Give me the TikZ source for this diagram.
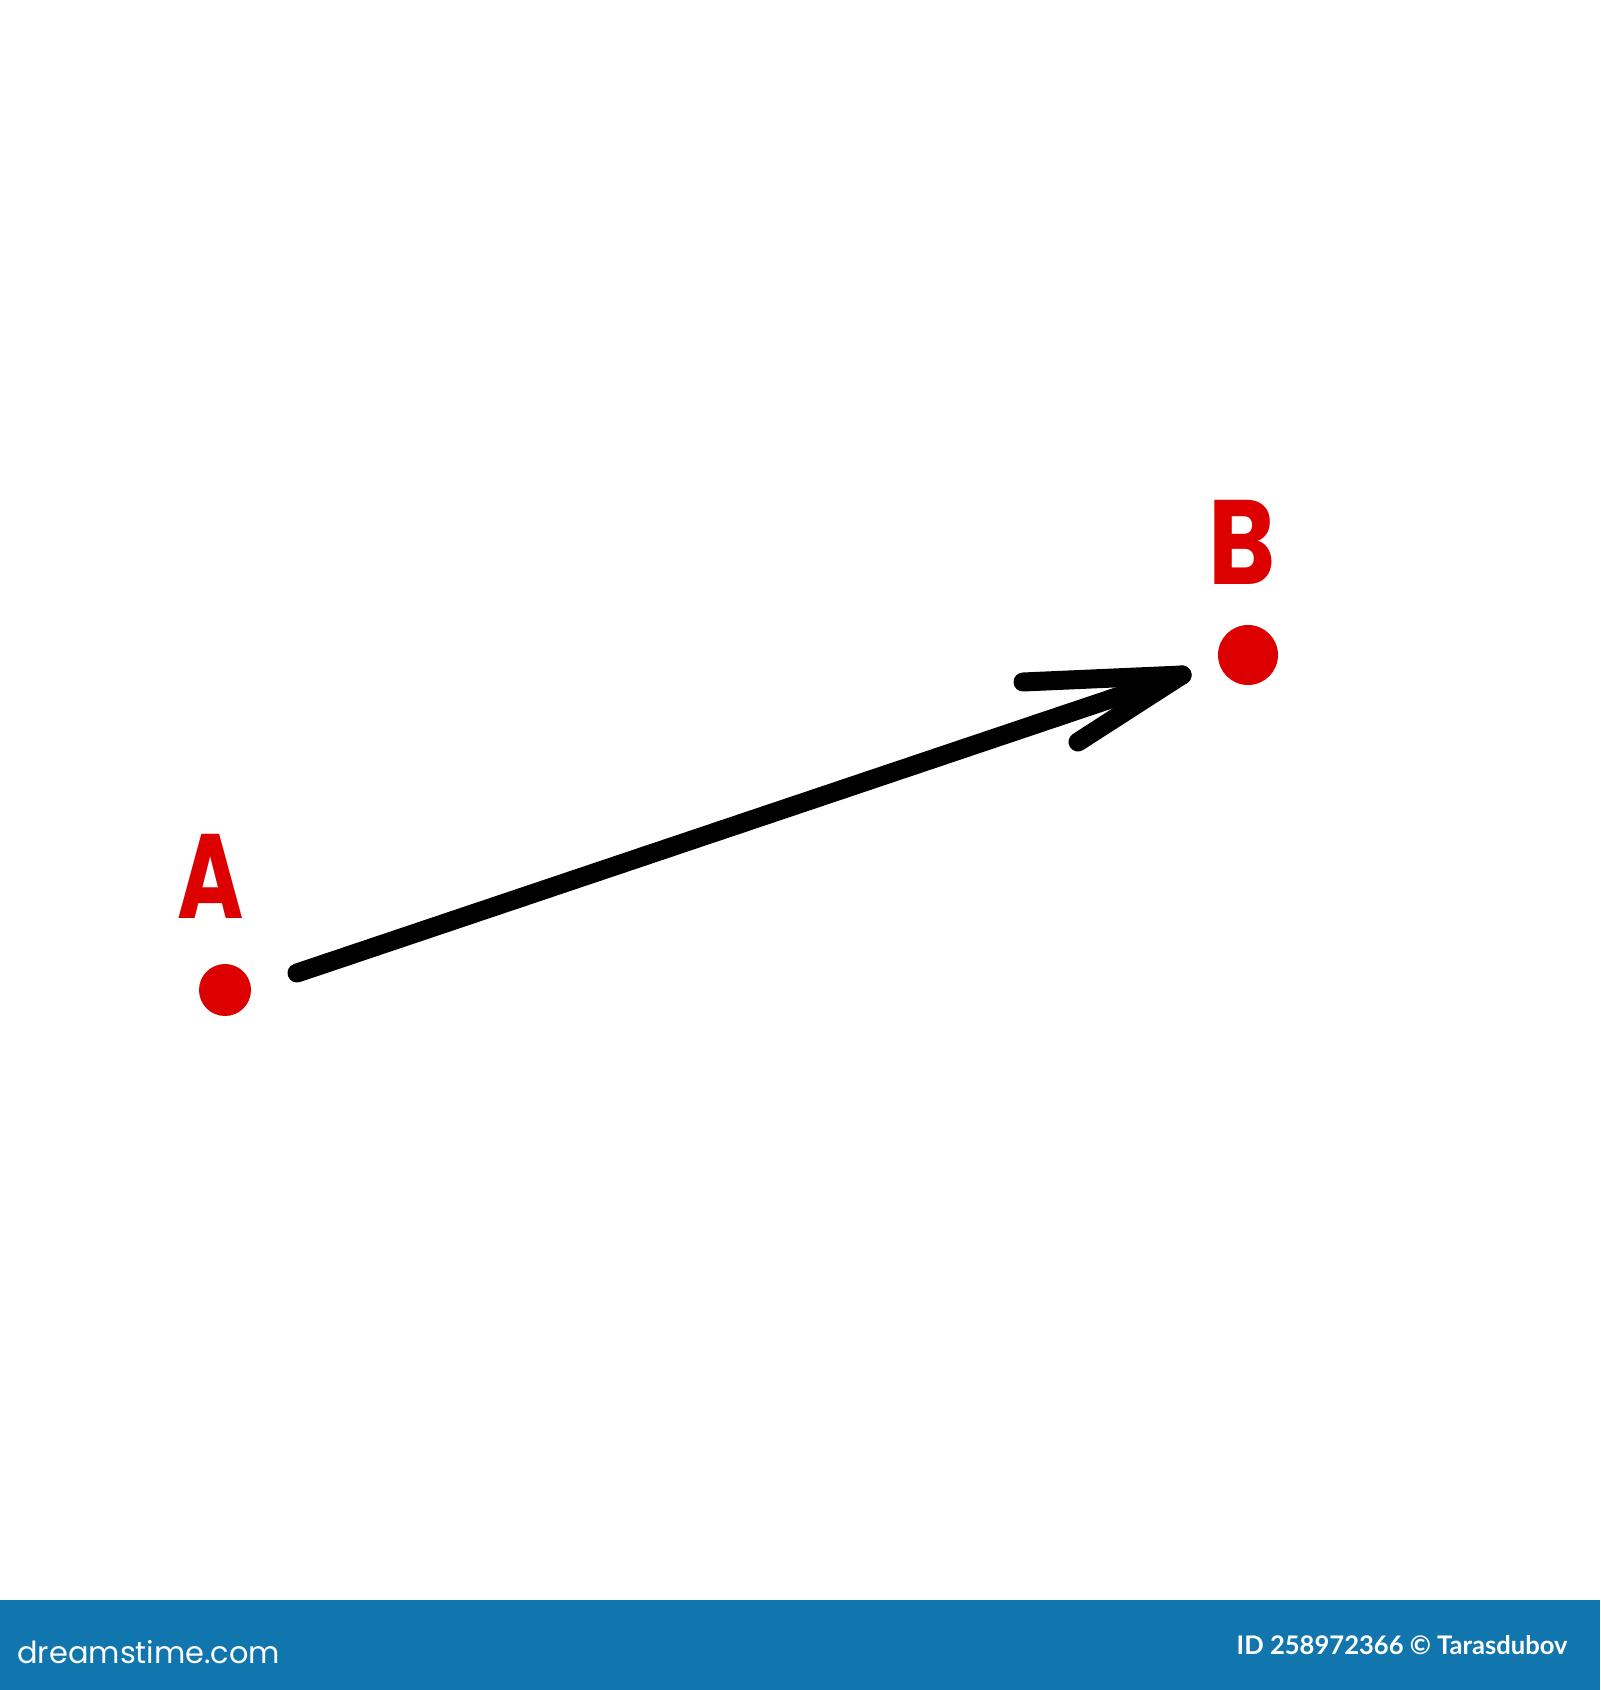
\documentclass[tikz,border=0pt]{standalone}
\usepackage{fontspec}
\setmainfont{Poppins}
\newfontfamily\idfont{Lato}
\definecolor{pred}{RGB}{221,0,0}
\definecolor{barblue}{RGB}{17,118,174}
\begin{document}
\begin{tikzpicture}[x=0.5pt,y=-0.5pt,
  dotnode/.style={circle,fill=pred,inner sep=0pt},
  letter/.style={text=pred,font=\fontsize{60}{60}\selectfont\bfseries,inner sep=0pt,anchor=center},
  stroke/.style={line width=9.5pt,line cap=round,line join=round,black}]
\useasboundingbox (0,0) rectangle (1600,1690);
\fill[white] (0,0) rectangle (1600,1690);
% points
\node[dotnode,minimum size=26pt] (A) at (225,990) {};
\node[dotnode,minimum size=30pt] (B) at (1248,655) {};
\node[letter,xscale=0.75] (la) at (211,876) {A};
\node[letter,xscale=0.85] (lb) at (1242,542) {B};
% arrow
\coordinate (s) at (297,973);
\coordinate (t) at (1182,675);
\coordinate (arm1) at (1023,682);
\coordinate (arm2) at (1078,742);
\draw[stroke] (s) -- (t);
\draw[stroke] (t) -- (arm1);
\draw[stroke] (t) -- (arm2);
% bottom bar
\fill[barblue] (0,1600) rectangle (1600,1690);
\node[text=white,font=\fontsize{15.2}{15.2}\selectfont,anchor=west,inner sep=0pt] (brand) at (17,1652) {dreamstime.com};
\node[text=white,font=\idfont\fontsize{12.8}{12.8}\selectfont\bfseries,anchor=east,inner sep=0pt] (idtext) at (1568,1645) {ID 258972366 © Tarasdubov};
\end{tikzpicture}
\end{document}
